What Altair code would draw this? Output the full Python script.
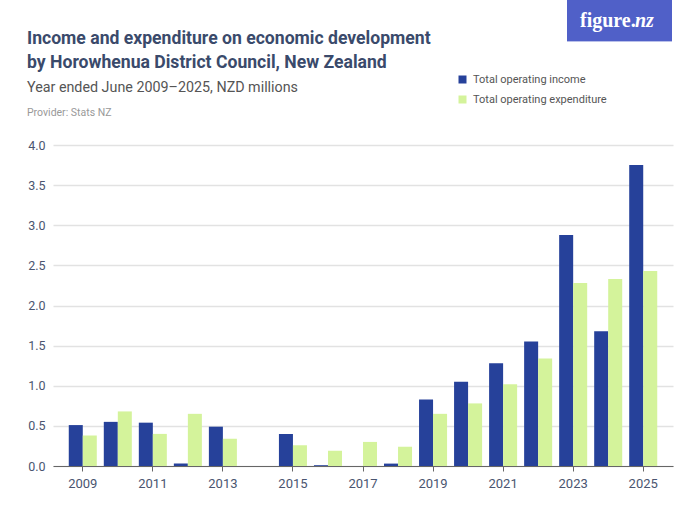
import altair as alt
import pandas as pd

years = list(range(2009, 2026))
income = [0.51, 0.55, 0.54, 0.03, 0.49, 0.0, 0.40, 0.01, 0.0, 0.03,
          0.83, 1.05, 1.28, 1.55, 2.88, 1.68, 3.75]
expenditure = [0.38, 0.68, 0.40, 0.65, 0.34, 0.0, 0.26, 0.19, 0.30, 0.24,
               0.65, 0.78, 1.02, 1.34, 2.28, 2.33, 2.43]
series_names = ["Total operating income", "Total operating expenditure"]
series_colors = ["#26419a", "#d4f39b"]
tick_years = [2009, 2011, 2013, 2015, 2017, 2019, 2021, 2023, 2025]

rows = []
for i, y in enumerate(years):
    rows.append({"year": y, "series": series_names[0], "value": income[i]})
    rows.append({"year": y, "series": series_names[1], "value": expenditure[i]})
df = pd.DataFrame(rows)

FONT = "Roboto"
W, H = 620, 321

bars = alt.Chart(df).mark_bar().encode(
    x=alt.X("year:O",
            scale=alt.Scale(paddingInner=0.2, paddingOuter=0.45),
            axis=alt.Axis(values=tick_years, title=None, labelAngle=0,
                          labelFont=FONT, labelFontSize=13, labelColor="#4a5570",
                          labelPadding=6, domainColor="#666666", tickColor="#666666",
                          tickSize=5, grid=False)),
    xOffset=alt.XOffset("series:N", sort=series_names),
    y=alt.Y("value:Q",
            scale=alt.Scale(domain=[0, 4]),
            axis=alt.Axis(values=[0, 0.5, 1, 1.5, 2, 2.5, 3, 3.5, 4], format=".1f",
                          title=None, domain=False, ticks=False, labelPadding=8,
                          labelFont=FONT, labelFontSize=12.5, labelColor="#4a5570",
                          gridColor="#e2e2e2", gridWidth=1.5)),
    color=alt.Color("series:N", sort=series_names,
                    scale=alt.Scale(domain=series_names, range=series_colors),
                    legend=alt.Legend(orient="none", legendX=404, legendY=-71,
                                      title=None, symbolType="square", symbolSize=64,
                                      symbolStrokeWidth=0, labelFont=FONT,
                                      labelFontSize=11, labelColor="#555555",
                                      rowPadding=8, labelOffset=5)),
)


def text_layer(txt, x, y, size, color, weight="normal", font=FONT, style="normal",
               align="left"):
    return alt.Chart(pd.DataFrame({"t": [txt]})).mark_text(
        align=align, baseline="alphabetic", fontSize=size, color=color,
        fontWeight=weight, font=font, fontStyle=style,
    ).encode(text="t:N", x=alt.value(x), y=alt.value(y))


title1 = text_layer("Income and expenditure on economic development", -26, -101, 17.6,
                    "#3a4a6b", weight="bold")
title2 = text_layer("by Horowhenua District Council, New Zealand", -26, -77, 17.6,
                    "#3a4a6b", weight="bold")
subtitle = text_layer("Year ended June 2009–2025, NZD millions", -26, -53, 14.3, "#555555")
provider = text_layer("Provider: Stats NZ", -26, -29, 10.5, "#999999")

logo_bg = alt.Chart(pd.DataFrame({"a": [1]})).mark_rect(color="#5060c8").encode(
    x=alt.value(514), x2=alt.value(619), y=alt.value(-145), y2=alt.value(-104))
logo_line = alt.Chart(pd.DataFrame({"a": [1]})).mark_rect(color="#b9c0ea").encode(
    x=alt.value(514), x2=alt.value(619), y=alt.value(-104), y2=alt.value(-103))
logo_text1 = text_layer("figure.", 527, -118, 20, "white", weight="bold",
                        font="Liberation Serif")
logo_text2 = text_layer("nz", 582, -118, 20, "white", weight="bold",
                        font="Liberation Serif", style="italic")

chart = alt.layer(
    bars, title1, title2, subtitle, provider, logo_bg, logo_line, logo_text1, logo_text2
).properties(
    width=W, height=H,
    autosize=alt.AutoSizeParams(type="none"),
    padding={"left": 53, "top": 145, "right": 27, "bottom": 59},
    background="white",
).configure_view(stroke=None)

chart.save("out.html", embed_options={"renderer": "svg", "actions": False})
